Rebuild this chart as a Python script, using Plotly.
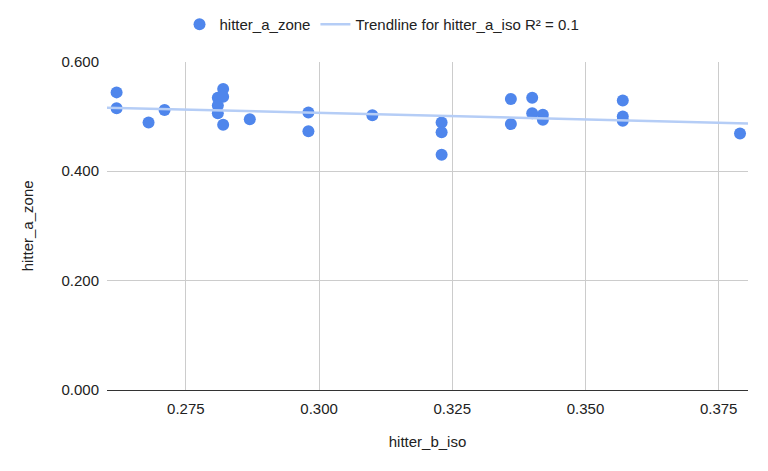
import numpy as np
import plotly.graph_objects as go

# hitter_b_iso on x, hitter_a_zone on y
hitter_b_iso = [0.262, 0.262, 0.268, 0.271, 0.282, 0.281, 0.282, 0.281, 0.281, 0.282,
                0.287, 0.298, 0.298, 0.310, 0.323, 0.323, 0.323, 0.336, 0.336, 0.340,
                0.340, 0.342, 0.342, 0.357, 0.357, 0.357, 0.379]
hitter_a_zone = [0.544, 0.515, 0.489, 0.512, 0.550, 0.534, 0.536, 0.520, 0.506, 0.485,
                 0.495, 0.507, 0.473, 0.502, 0.489, 0.471, 0.430, 0.532, 0.486, 0.534,
                 0.506, 0.503, 0.494, 0.529, 0.500, 0.492, 0.469]

x_range = [0.2602, 0.3805]
x_ticks = [0.275, 0.300, 0.325, 0.350, 0.375]
y_ticks = [0.0, 0.2, 0.4, 0.6]

slope, intercept = np.polyfit(hitter_b_iso, hitter_a_zone, 1)
trend_x = np.array(x_range)
trend_y = slope * trend_x + intercept

font = "Liberation Sans, Arial, sans-serif"

fig = go.Figure()
fig.add_trace(go.Scatter(
    x=hitter_b_iso, y=hitter_a_zone, mode="markers", name="hitter_a_zone",
    marker=dict(color="#4f86ec", size=12)))
fig.add_trace(go.Scatter(
    x=trend_x, y=trend_y, mode="lines", name="Trendline for hitter_a_iso R² = 0.1",
    line=dict(color="#b5cdf6", width=2.5)))

# the page body adds an 8px offset, margins are set to compensate
# (the legend pushes the top margin, so it sits a little high)
fig.update_layout(
    width=768, height=471, plot_bgcolor="white", paper_bgcolor="white",
    margin=dict(l=99, r=28, t=52, b=89),
    font=dict(family=font, size=15, color="#222222"),
    showlegend=True,
    legend=dict(orientation="h", xref="container", x=0.487, xanchor="center",
                yref="container", y=0.965, yanchor="middle", font=dict(size=15),
                itemwidth=30))

fig.update_xaxes(
    range=x_range, tickvals=x_ticks, ticktext=[f"{v:.3f}" for v in x_ticks],
    showgrid=True, gridcolor="#cccccc", gridwidth=1, zeroline=False,
    showline=False, ticks="", ticklabelstandoff=8,
    title=dict(text="hitter_b_iso", standoff=20, font=dict(size=15)))
fig.update_yaxes(
    range=[0, 0.6], tickvals=y_ticks, ticktext=[f"{v:.3f}" for v in y_ticks],
    showgrid=True, gridcolor="#cccccc", gridwidth=1, zeroline=True,
    zerolinecolor="#333333", zerolinewidth=1.2,
    showline=False, ticks="", ticklabelstandoff=7,
    title=dict(text="hitter_a_zone", standoff=24, font=dict(size=15)))

fig.write_html("out.html")
